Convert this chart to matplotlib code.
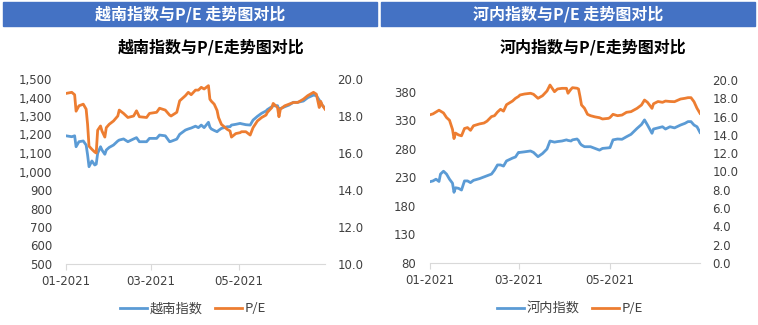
import matplotlib
matplotlib.use('Agg')
import matplotlib.pyplot as plt
import matplotlib.dates as mdates
from matplotlib.patches import Rectangle
from matplotlib.ticker import FuncFormatter
import pandas as pd

plt.rcParams['font.family'] = ['DejaVu Sans']
CJK = ['Noto Sans CJK SC', 'DejaVu Sans']

# ---- data: Vietnam (VN) index and P/E ----
vn_dates = ['2021-01-04', '2021-01-08', '2021-01-10', '2021-01-11', '2021-01-13', '2021-01-16',
            '2021-01-18', '2021-01-19', '2021-01-20', '2021-01-22', '2021-01-24', '2021-01-25',
            '2021-01-26', '2021-01-28', '2021-01-29', '2021-01-31', '2021-02-01', '2021-02-03',
            '2021-02-06', '2021-02-09', '2021-02-10', '2021-02-13', '2021-02-16', '2021-02-20',
            '2021-02-22', '2021-02-24', '2021-03-01', '2021-03-03', '2021-03-08', '2021-03-10',
            '2021-03-14', '2021-03-17', '2021-03-18', '2021-03-22', '2021-03-24', '2021-03-28',
            '2021-03-30', '2021-04-01', '2021-04-04', '2021-04-06', '2021-04-08', '2021-04-10',
            '2021-04-13', '2021-04-14', '2021-04-15', '2021-04-17', '2021-04-19', '2021-04-20',
            '2021-04-22', '2021-04-26', '2021-04-28', '2021-04-29', '2021-05-02', '2021-05-05',
            '2021-05-06', '2021-05-09', '2021-05-12', '2021-05-14', '2021-05-17', '2021-05-20',
            '2021-05-23', '2021-05-24', '2021-05-27', '2021-05-28', '2021-05-31', '2021-06-01',
            '2021-06-02', '2021-06-05', '2021-06-08', '2021-06-11', '2021-06-14', '2021-06-18',
            '2021-06-21', '2021-06-25', '2021-06-27', '2021-06-29', '2021-06-30', '2021-07-01',
            '2021-07-03']
vn_index = [1193, 1188, 1193, 1134, 1161, 1165, 1143, 1090, 1026, 1057, 1035, 1040,
            1098, 1134, 1116, 1093, 1116, 1130, 1143, 1165, 1170, 1176, 1161, 1176,
            1183, 1161, 1161, 1179, 1179, 1197, 1193, 1161, 1163, 1175, 1201, 1224,
            1230, 1235, 1245, 1237, 1251, 1237, 1266, 1240, 1230, 1222, 1215, 1222,
            1233, 1242, 1242, 1251, 1255, 1260, 1258, 1253, 1251, 1278, 1298, 1315,
            1327, 1335, 1350, 1355, 1356, 1332, 1340, 1350, 1359, 1374, 1374, 1381,
            1399, 1413, 1410, 1386, 1375, 1359, 1342]
vn_pe = [19.22, 19.28, 19.15, 18.26, 18.55, 18.64, 18.37, 17.55, 16.37, 16.20, 16.05, 16.00,
         17.23, 17.46, 17.19, 16.86, 17.37, 17.55, 17.73, 18.00, 18.32, 18.14, 17.92, 18.00,
         18.28, 17.96, 17.92, 18.14, 18.20, 18.42, 18.32, 18.05, 18.00, 18.20, 18.82, 19.10,
         19.28, 19.15, 19.40, 19.40, 19.55, 19.46, 19.64, 18.91, 18.80, 18.64, 18.30, 17.92,
         17.55, 17.28, 17.19, 16.86, 17.05, 17.10, 17.15, 17.15, 16.97, 17.37, 17.73, 17.92,
         18.05, 18.20, 18.45, 18.68, 18.46, 17.96, 18.37, 18.55, 18.64, 18.73, 18.73, 18.91,
         19.10, 19.28, 19.18, 18.46, 18.79, 18.60, 18.37]

# ---- data: Hanoi (HNX) index and P/E ----
hn_dates = ['2021-01-04', '2021-01-06', '2021-01-08', '2021-01-10', '2021-01-11', '2021-01-13',
            '2021-01-15', '2021-01-17', '2021-01-19', '2021-01-20', '2021-01-21', '2021-01-23',
            '2021-01-25', '2021-01-27', '2021-01-29', '2021-01-31', '2021-02-02', '2021-02-06',
            '2021-02-09', '2021-02-11', '2021-02-14', '2021-02-16', '2021-02-18', '2021-02-20',
            '2021-02-22', '2021-02-24', '2021-02-28', '2021-03-02', '2021-03-04', '2021-03-05',
            '2021-03-08', '2021-03-12', '2021-03-14', '2021-03-17', '2021-03-20', '2021-03-23',
            '2021-03-25', '2021-03-28', '2021-03-30', '2021-04-02', '2021-04-05', '2021-04-06',
            '2021-04-08', '2021-04-09', '2021-04-12', '2021-04-13', '2021-04-14', '2021-04-15',
            '2021-04-17', '2021-04-19', '2021-04-21', '2021-04-24', '2021-04-27', '2021-04-29',
            '2021-05-03', '2021-05-04', '2021-05-06', '2021-05-09', '2021-05-12', '2021-05-15',
            '2021-05-18', '2021-05-22', '2021-05-25', '2021-05-27', '2021-05-29', '2021-06-01',
            '2021-06-02', '2021-06-05', '2021-06-08', '2021-06-10', '2021-06-13', '2021-06-16',
            '2021-06-20', '2021-06-23', '2021-06-25', '2021-06-27', '2021-06-29', '2021-07-01',
            '2021-07-03']
hn_index = [222.6, 224, 227, 223, 236, 241, 236, 227, 220, 204, 212, 211,
            208, 224, 224, 221, 225, 228, 231, 233, 236, 243, 252, 252,
            250, 259, 264, 266, 274, 274, 275, 276.5, 274, 266.5, 272, 280,
            294, 292, 293, 294, 296, 295, 294, 296, 297.5, 295, 290, 287,
            284, 284, 284, 281, 278, 281, 282, 282.3, 296, 297.5, 297, 301.5,
            305.7, 316, 323, 331, 322, 307.5, 315, 317, 319, 315, 319, 317,
            322, 325, 328, 328, 322, 319, 309]
hn_pe = [16.2, 16.3, 16.5, 16.7, 16.6, 16.4, 15.9, 15.6, 14.6, 13.6, 14.2, 14.0,
         13.9, 14.7, 14.8, 14.5, 15.0, 15.2, 15.3, 15.5, 16.0, 16.1, 16.5, 16.8,
         16.6, 17.3, 17.7, 18.0, 18.2, 18.36, 18.47, 18.55, 18.44, 18.0, 18.28, 18.8,
         19.45, 18.72, 19.02, 19.09, 19.09, 18.55, 19.0, 19.16, 19.1, 19.02, 18.2, 17.27,
         16.91, 16.25, 16.1, 15.97, 15.88, 15.74, 15.81, 15.9, 16.25, 16.1, 16.17, 16.47,
         16.54, 16.9, 17.27, 17.81, 17.56, 16.9, 17.4, 17.65, 17.56, 17.7, 17.65, 17.63,
         17.92, 18.0, 18.07, 18.07, 17.63, 16.91, 16.36]

vn_ticks = list(range(500, 1501, 100))
hn_ticks = list(range(80, 381, 50))
vn_pe_ticks = [10, 12, 14, 16, 18, 20]
hn_pe_ticks = list(range(0, 21, 2))
x_ticks = ['2021-01-04', '2021-03-04', '2021-05-04']

BLUE = '#5B9BD5'
ORANGE = '#ED7D31'
HEADER = '#4472C4'
TXT = '#404040'
W, H = 758, 325

fig = plt.figure(figsize=(W / 100, H / 100), dpi=100)


def box(x0, y0, x1, y1):
    # pixel box (origin top-left) -> figure rect
    return [x0 / W, 1 - y1 / H, (x1 - x0) / W, (y1 - y0) / H]


def panel(header, title, name, dates, idx, pe, rect, ylim, yticks, yfmt,
          pelim, peticks, bar, title_x, legend_x):
    fig.patches.append(Rectangle((bar[0] / W, 1 - 26 / H), (bar[1] - bar[0]) / W, 24 / H,
                                 transform=fig.transFigure, color=HEADER, zorder=0))
    fig.text((bar[0] + bar[1]) / 2 / W, 1 - 14.5 / H, header, color='white',
             fontsize=11.5, fontweight='bold', family=CJK, ha='center', va='center')
    fig.text(title_x / W, 1 - 47 / H, title, color='black', fontsize=11.5,
             fontweight='bold', family=CJK, ha='center', va='center')

    ax = fig.add_axes(box(*rect))
    x = pd.to_datetime(dates)
    l1, = ax.plot(x, idx, color=BLUE, lw=2.0, solid_joinstyle='round')
    ax.set_ylim(*ylim)
    ax.set_yticks(yticks)
    ax.yaxis.set_major_formatter(FuncFormatter(yfmt))
    ax.set_xlim(pd.Timestamp('2021-01-04'), pd.Timestamp('2021-07-03'))
    ax.set_xticks(pd.to_datetime(x_ticks))
    ax.xaxis.set_major_formatter(mdates.DateFormatter('%m-%Y'))

    ax2 = ax.twinx()
    l2, = ax2.plot(x, pe, color=ORANGE, lw=2.0, solid_joinstyle='round')
    ax2.set_ylim(*pelim)
    ax2.set_yticks(peticks)
    ax2.yaxis.set_major_formatter(FuncFormatter(lambda v, p: f'{v:.1f}'))

    for a in (ax, ax2):
        for s in a.spines.values():
            s.set_visible(False)
    ax.spines['bottom'].set_visible(True)
    ax.spines['bottom'].set_color('#D9D9D9')
    ax.tick_params(axis='x', length=4, color='#D9D9D9', pad=4, labelsize=8.5, labelcolor=TXT)
    ax.tick_params(axis='y', length=0, pad=10, labelsize=8.5, labelcolor=TXT)
    ax2.tick_params(axis='y', length=0, pad=9, labelsize=8.5, labelcolor=TXT)

    fig.legend([l1, l2], [name, 'P/E'], loc='center', bbox_to_anchor=(legend_x / W, 1 - 309 / H),
               ncol=2, frameon=False, prop={'family': CJK, 'size': 9.5},
               handlelength=2.0, handletextpad=0.2, columnspacing=1.0, labelcolor=TXT)


panel('越南指数与P/E 走势图对比', '越南指数与P/E走势图对比', '越南指数',
      vn_dates, vn_index, vn_pe, (66, 79, 325, 264), (500, 1500), vn_ticks,
      lambda v, p: f'{v:,.0f}', (10, 20), vn_pe_ticks, (3, 377), 211, 193)

panel('河内指数与P/E 走势图对比', '河内指数与P/E走势图对比', '河内指数',
      hn_dates, hn_index, hn_pe, (430, 80, 700, 263), (80, 401), hn_ticks,
      lambda v, p: f'{v:.0f}', (0, 20), hn_pe_ticks, (381, 755), 593, 570)

fig.savefig('out.png', dpi=100)
